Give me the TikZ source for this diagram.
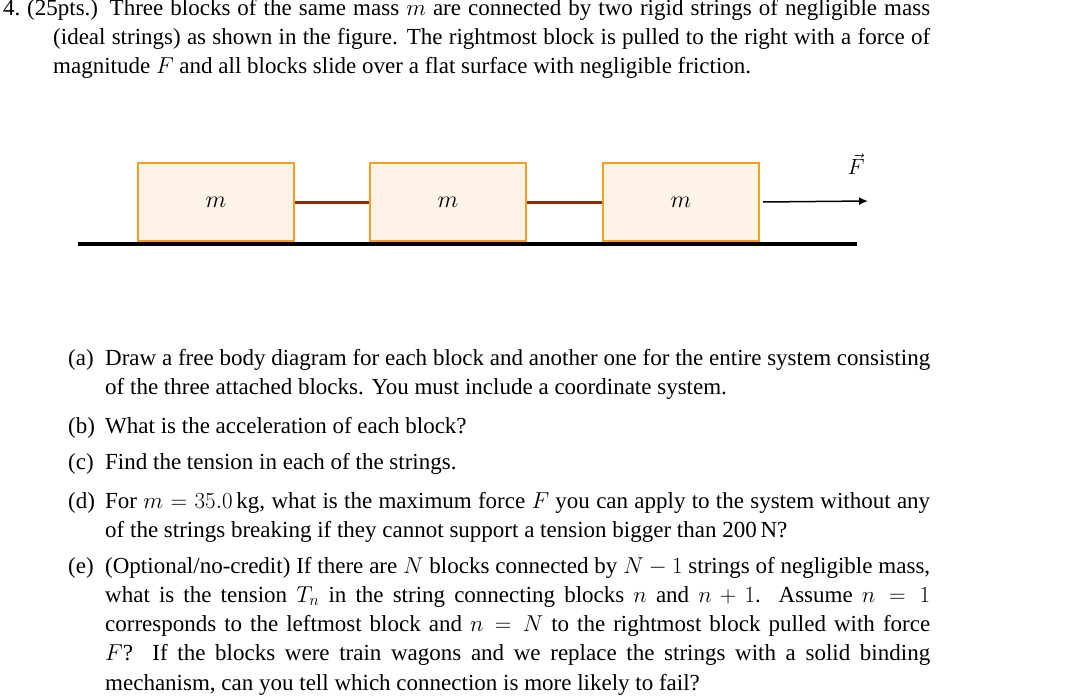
\RequirePackage{fix-cm}
\documentclass[tikz,border=0pt]{standalone}
\usepackage{fontspec}
\setmainfont{Liberation Serif}
\usetikzlibrary{arrows.meta}
\definecolor{blockfill}{HTML}{FDF3E7}
\definecolor{blockedge}{HTML}{F5A020}
\definecolor{strcol}{HTML}{8B2A05}
\begin{document}
\begin{tikzpicture}[x=1pt,y=-1pt,
  txt/.style={anchor=base west,inner sep=0pt,font=\fontsize{23}{29}\selectfont},
  blk/.style={draw=blockedge,fill=blockfill,line width=2pt,minimum width=156pt,minimum height=78pt,inner sep=0pt,font=\fontsize{24}{26}\selectfont},
  str/.style={strcol,line width=3pt}]
\useasboundingbox (0,0) rectangle (1084,698);
\newcommand{\jl}[5]{\node[txt] (#1) at (#2,#3) {\hbox to #4pt{#5}};}
\newcommand{\pl}[4]{\node[txt] (#1) at (#2,#3) {#4};}
% header
\pl{n4}{3}{16}{4.}
\jl{h1}{27}{16}{903}{(25pts.) Three blocks of the same mass $m$ are connected by two rigid strings of negligible mass}
\jl{h2}{53}{45}{877}{(ideal strings) as shown in the figure. The rightmost block is pulled to the right with a force of}
\pl{h3}{53}{74}{magnitude $F$ and all blocks slide over a flat surface with negligible friction.}
% figure
\node[blk] (b1) at (216,202) {$m$};
\node[blk] (b2) at (448,202) {$m$};
\node[blk] (b3) at (681,202) {$m$};
\draw[str] (b1.east) -- (b2.west);
\draw[str] (b2.east) -- (b3.west);
\coordinate (g1) at (78,244);
\coordinate (g2) at (857,244);
\draw[line width=4pt] (g1) -- (g2);
\coordinate (fe) at (868,201);
\draw[line width=1.5pt,-{Latex[length=9pt,width=8pt]}] ([xshift=3pt]b3.east) -- (fe);
\node[font=\fontsize{22}{24}\selectfont,inner sep=0pt] (fl) at (856,164) {$\vec F$};
% items
\pl{la}{68}{365}{(a)}
\jl{a1}{105}{365}{825}{Draw a free body diagram for each block and another one for the entire system consisting}
\pl{a2}{105}{394}{of the three attached blocks. You must include a coordinate system.}
\pl{lb}{68}{433}{(b)}
\pl{b1t}{105}{433}{What is the acceleration of each block?}
\pl{lc}{68}{469}{(c)}
\pl{c1}{105}{469}{Find the tension in each of the strings.}
\pl{ld}{68}{508}{(d)}
\jl{d1}{105}{508}{825}{For $m=35.0\,$kg, what is the maximum force $F$ you can apply to the system without any}
\pl{d2}{105}{537}{of the strings breaking if they cannot support a tension bigger than 200\,N?}
\pl{le}{68}{573}{(e)}
\jl{e1}{105}{573}{825}{(Optional/no-credit) If there are $N$ blocks connected by $N-1$ strings of negligible mass,}
\jl{e2}{105}{602}{825}{what is the tension $T_n$ in the string connecting blocks $n$ and $n+1$. Assume $n=1$}
\jl{e3}{105}{631}{825}{corresponds to the leftmost block and $n=N$ to the rightmost block pulled with force}
\jl{e4}{105}{660}{825}{$F$? If the blocks were train wagons and we replace the strings with a solid binding}
\pl{e5}{105}{690}{mechanism, can you tell which connection is more likely to fail?}
\end{tikzpicture}
\end{document}
